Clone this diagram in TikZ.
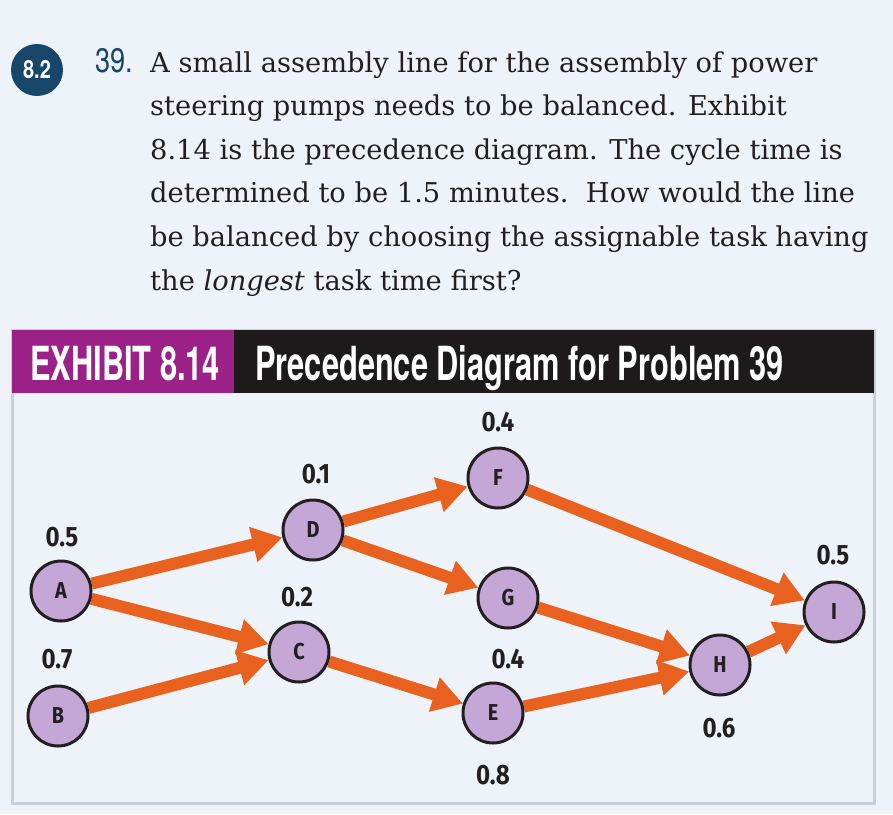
\documentclass[tikz,border=0pt]{standalone}
\usepackage{fontspec}
\usetikzlibrary{arrows.meta}
\newfontfamily\labelfont[FakeStretch=0.86]{Fira Sans}
\newfontfamily\headfont[FakeStretch=0.655]{TeX Gyre Heros}
\newfontfamily\numfont[FakeStretch=0.8]{TeX Gyre Heros}
\newfontfamily\qfont{DejaVu Serif}
\definecolor{bg}{HTML}{EEF3FA}
\definecolor{navy}{HTML}{16476A}
\definecolor{exmag}{HTML}{9B2188}
\definecolor{hdrblack}{HTML}{1E1A1B}
\definecolor{arr}{HTML}{E8611E}
\definecolor{nodefill}{HTML}{C4A7D7}
\definecolor{framec}{HTML}{C9CFD8}
\definecolor{ink}{HTML}{231F20}
\pgfdeclarelayer{bgl}
\pgfdeclarelayer{edges}
\pgfsetlayers{bgl,edges,main}
\tikzset{
  task/.style={circle, draw=ink, line width=3pt, fill=nodefill, minimum size=60pt, inner sep=0pt,
    text=ink, font=\labelfont\bfseries\fontsize{23}{23}\selectfont},
  tlabel/.style={text=ink, inner sep=0pt, font=\labelfont\bfseries\fontsize{28}{28}\selectfont},
  flow/.style={draw=arr, line width=12pt, -{Triangle[length=30pt,width=34pt]}},
  qline/.style={anchor=base west, inner sep=0pt, text=ink, font=\qfont\fontsize{27.3}{27.3}\selectfont},
  hdr/.style={anchor=base west, inner sep=0pt, text=white, font=\headfont\bfseries\fontsize{47}{47}\selectfont}
}
\begin{document}
\begin{tikzpicture}[x=1pt,y=-1pt]
\begin{pgfonlayer}{bgl}
\fill[bg] (0,0) rectangle (893,814);
\draw[framec, line width=3pt] (12,330) rectangle (874,803);
\fill[exmag] (12,330) rectangle (234,393);
\fill[hdrblack] (234,330) rectangle (874,393);
\end{pgfonlayer}
\useasboundingbox (0,0) rectangle (893,814);
% problem heading
\node[circle, fill=navy, minimum size=52pt, inner sep=0pt, text=white,
  font=\numfont\bfseries\fontsize{25}{25}\selectfont] (sec) at (37,70) {8.2};
\node[anchor=base west, inner sep=0pt, text=navy, font=\numfont\fontsize{34}{34}\selectfont] (num) at (95,72) {39.};
\node[qline] (q1) at (150,72) {A small assembly line for the assembly of power};
\node[qline] (q2) at (150,115.6) {steering pumps needs to be balanced. Exhibit};
\node[qline] (q3) at (150,159.2) {8.14 is the precedence diagram. The cycle time is};
\node[qline] (q4) at (150,202.8) {determined to be 1.5 minutes.\ \ How would the line};
\node[qline] (q5) at (150,246.4) {be balanced by choosing the assignable task having};
\node[qline] (q6) at (150,290) {the \emph{longest} task time first?};
% exhibit header
\node[hdr] (ex) at (30,380) {EXHIBIT 8.14};
\node[hdr] (title) at (255,380) {Precedence Diagram for Problem 39};
% tasks
\node[task] (A) at (61,591) {A};
\node[task] (B) at (58,716) {B};
\node[task] (C) at (299,652) {C};
\node[task] (D) at (313,530) {D};
\node[task] (F) at (498,478) {F};
\node[task] (G) at (508,598) {G};
\node[task] (E) at (493,713) {E};
\node[task] (H) at (720,665) {H};
\node[task] (I) at (834,612) {I};
% task times
\node[tlabel] (tA) at (62,537) {0.5};
\node[tlabel] (tB) at (57,659) {0.7};
\node[tlabel] (tC) at (297,597) {0.2};
\node[tlabel] (tD) at (316,474) {0.1};
\node[tlabel] (tF) at (498,422) {0.4};
\node[tlabel] (tG) at (508,659) {0.4};
\node[tlabel] (tE) at (493,775) {0.8};
\node[tlabel] (tH) at (719,728) {0.6};
\node[tlabel] (tI) at (833,555) {0.5};
% precedence arrows
\begin{pgfonlayer}{edges}
\draw[flow] (A) -- (D);
\draw[flow] (A) -- (C);
\draw[flow] (B) -- (C);
\draw[flow] (D) -- (F);
\draw[flow] (D) -- (G);
\draw[flow] (C) -- (E);
\draw[flow] (F) -- (I);
\draw[flow] (G) -- (H);
\draw[flow] (E) -- (H);
\draw[flow] (H) -- (I);
\end{pgfonlayer}
\end{tikzpicture}
\end{document}
